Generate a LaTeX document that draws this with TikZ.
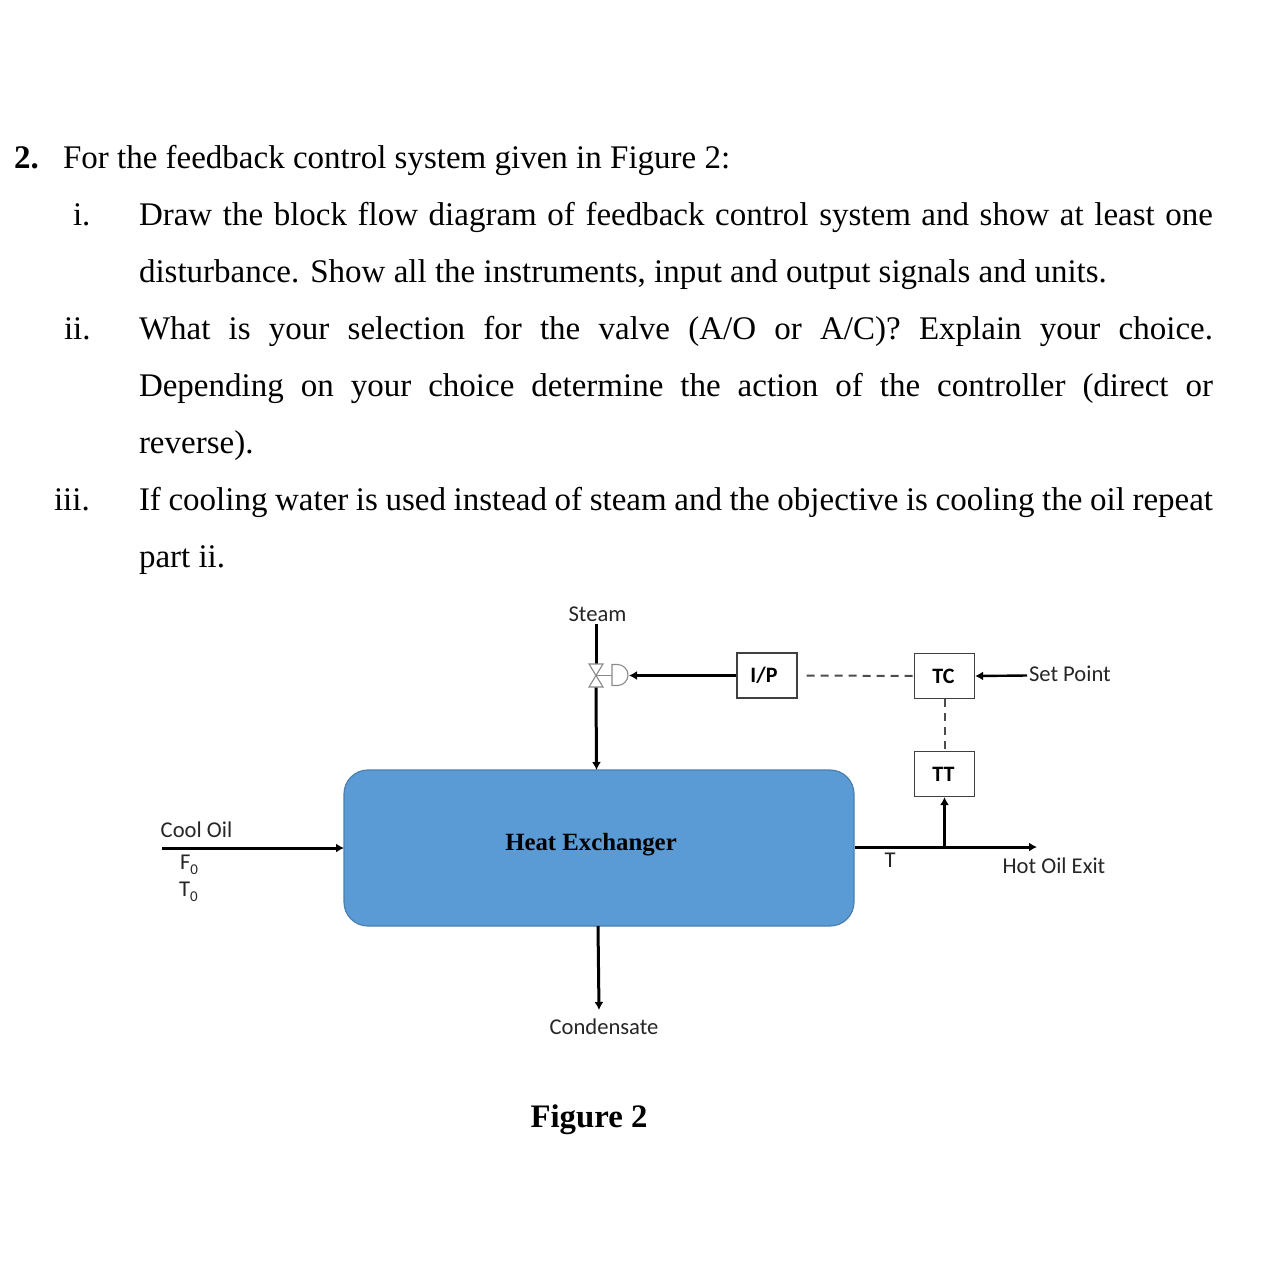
\documentclass[tikz,border=0pt]{standalone}
\usepackage{fontspec}
\setmainfont{Liberation Serif}
\newfontfamily\calib{Carlito}
\usetikzlibrary{arrows.meta}
\definecolor{hxblue}{HTML}{5B9BD5}
\definecolor{hxedge}{HTML}{4A7FAE}
\definecolor{valvegray}{HTML}{8A8A8A}
\newcommand{\jline}[1]{\makebox[1074pt][s]{#1}}
\tikzset{
  x=1pt,y=-1pt,
  txt/.style={anchor=base west,inner sep=0pt,outer sep=0pt,font=\fontsize{33}{36}\selectfont},
  lab/.style={inner sep=0pt,outer sep=0pt,font=\calib\fontsize{22.6}{24}\selectfont,text=black!85},
  inst/.style={draw=black!75,line width=1.2pt,fill=white,minimum width=60pt,minimum height=45pt,inner sep=0pt,font=\calib\bfseries\fontsize{22}{24}\selectfont},
  flow/.style={line width=3pt,draw=black,-{Latex[length=8pt,width=9pt]}},
  plainflow/.style={line width=3pt,draw=black},
  sig/.style={line width=2pt,draw=black!70,dash pattern=on 8pt off 6pt},
  valve/.style={line width=1.1pt,draw=valvegray,fill=white},
}
\begin{document}
\begin{tikzpicture}
\useasboundingbox (0,0) rectangle (1261,1261);
\node[txt] (q0) at (14,168) {\textbf{2.}};
\node[txt] (q1) at (63,168) {For the feedback control system given in Figure 2:};
\node[txt] (n1) at (73,225) {i.};
\node[txt] (l1) at (139,225) {\jline{Draw the block flow diagram of feedback control system and show at least one}};
\node[txt] (l2) at (139,282) {disturbance. Show all the instruments, input and output signals and units.};
\node[txt] (n2) at (64,339) {ii.};
\node[txt] (l3) at (139,339) {\jline{What is your selection for the valve (A/O or A/C)? Explain your choice.}};
\node[txt] (l4) at (139,396) {\jline{Depending on your choice determine the action of the controller (direct or}};
\node[txt] (l5) at (139,453) {reverse).};
\node[txt] (n3) at (54,510) {iii.};
\node[txt] (l6) at (139,510) {\jline{If cooling water is used instead of steam and the objective is cooling the oil repeat}};
\node[txt] (l7) at (139,567) {part ii.};

% Heat exchanger
\node[draw=hxedge,line width=1.2pt,fill=hxblue,rounded corners=24pt,minimum width=510pt,minimum height=156pt,inner sep=0pt] (hx) at (599,848) {};
\node[inner sep=0pt,font=\bfseries\fontsize{24.8}{28}\selectfont] (hxl) at (591,845) {Heat Exchanger};

% Instruments
\node[inst] (ip) at (767,675.5) {I/P\kern6pt};
\node[inst] (tc) at (944.5,676) {TC\kern2pt};
\node[inst] (tt) at (944.5,774) {TT\kern2pt};

% Labels
\node[lab] (steam) at (597.5,614) {Steam};
\node[lab,anchor=west] (sp) at (1029,674) {Set Point};
\node[lab] (cool) at (196.5,830) {Cool Oil};
\node[lab,anchor=west] (f0) at (180,865) {F\raisebox{-0.5ex}{\fontsize{15}{15}\selectfont 0}};
\node[lab,anchor=west] (t0) at (179,892) {T\raisebox{-0.5ex}{\fontsize{15}{15}\selectfont 0}};
\node[lab] (tl) at (890,860) {T};
\node[lab] (hot) at (1054,866) {Hot Oil Exit};
\node[lab] (cond) at (604,1027) {Condensate};
\node[inner sep=0pt,font=\bfseries\fontsize{32.8}{34}\selectfont] (fig) at (589,1120) {Figure 2};

% Coordinates
\coordinate (st) at (596,624);
\coordinate (vc) at (596,675.5);
\coordinate (hxin) at (596.5,770);
\coordinate (act) at (629,675.5);
\coordinate (cin) at (162,848);
\coordinate (hin) at (344,848);
\coordinate (hout) at (855,847);
\coordinate (hend) at (1037,847);
\coordinate (tap) at (944.5,847);
\coordinate (cs) at (598,926);
\coordinate (ce) at (599,1010);
\coordinate (spe) at (1027,675.5);

% Flows
\draw[plainflow] (st) -- (596,665);
\draw[flow] (596,687) -- (hxin);
\draw[flow] (ip.west) -- (act);
\draw[flow] (cin) -- (hin);
\draw[flow] (hout) -- (hend);
\draw[flow] (tap) -- (tt.south);
\draw[flow] (cs) -- (ce);
\draw[line width=2.4pt,-{Latex[length=8pt,width=9pt]}] (spe) -- (tc.east);

% Signals
\draw[sig] (ip.east) ++(9,0) -- (tc.west);
\draw[sig] (tc.south) -- (tt.north);

% Valve
\draw[valve] (vc) -- (589,664) -- (603,664) -- cycle;
\draw[valve] (vc) -- (589,687) -- (603,687) -- cycle;
\draw[valve,fill=none] (vc) -- (612,675.5);
\draw[valve] (612,664.5) -- (617.5,664.5) arc[start angle=90,end angle=-90,radius=10.5pt] -- (612,685.5) -- cycle;
\end{tikzpicture}
\end{document}
